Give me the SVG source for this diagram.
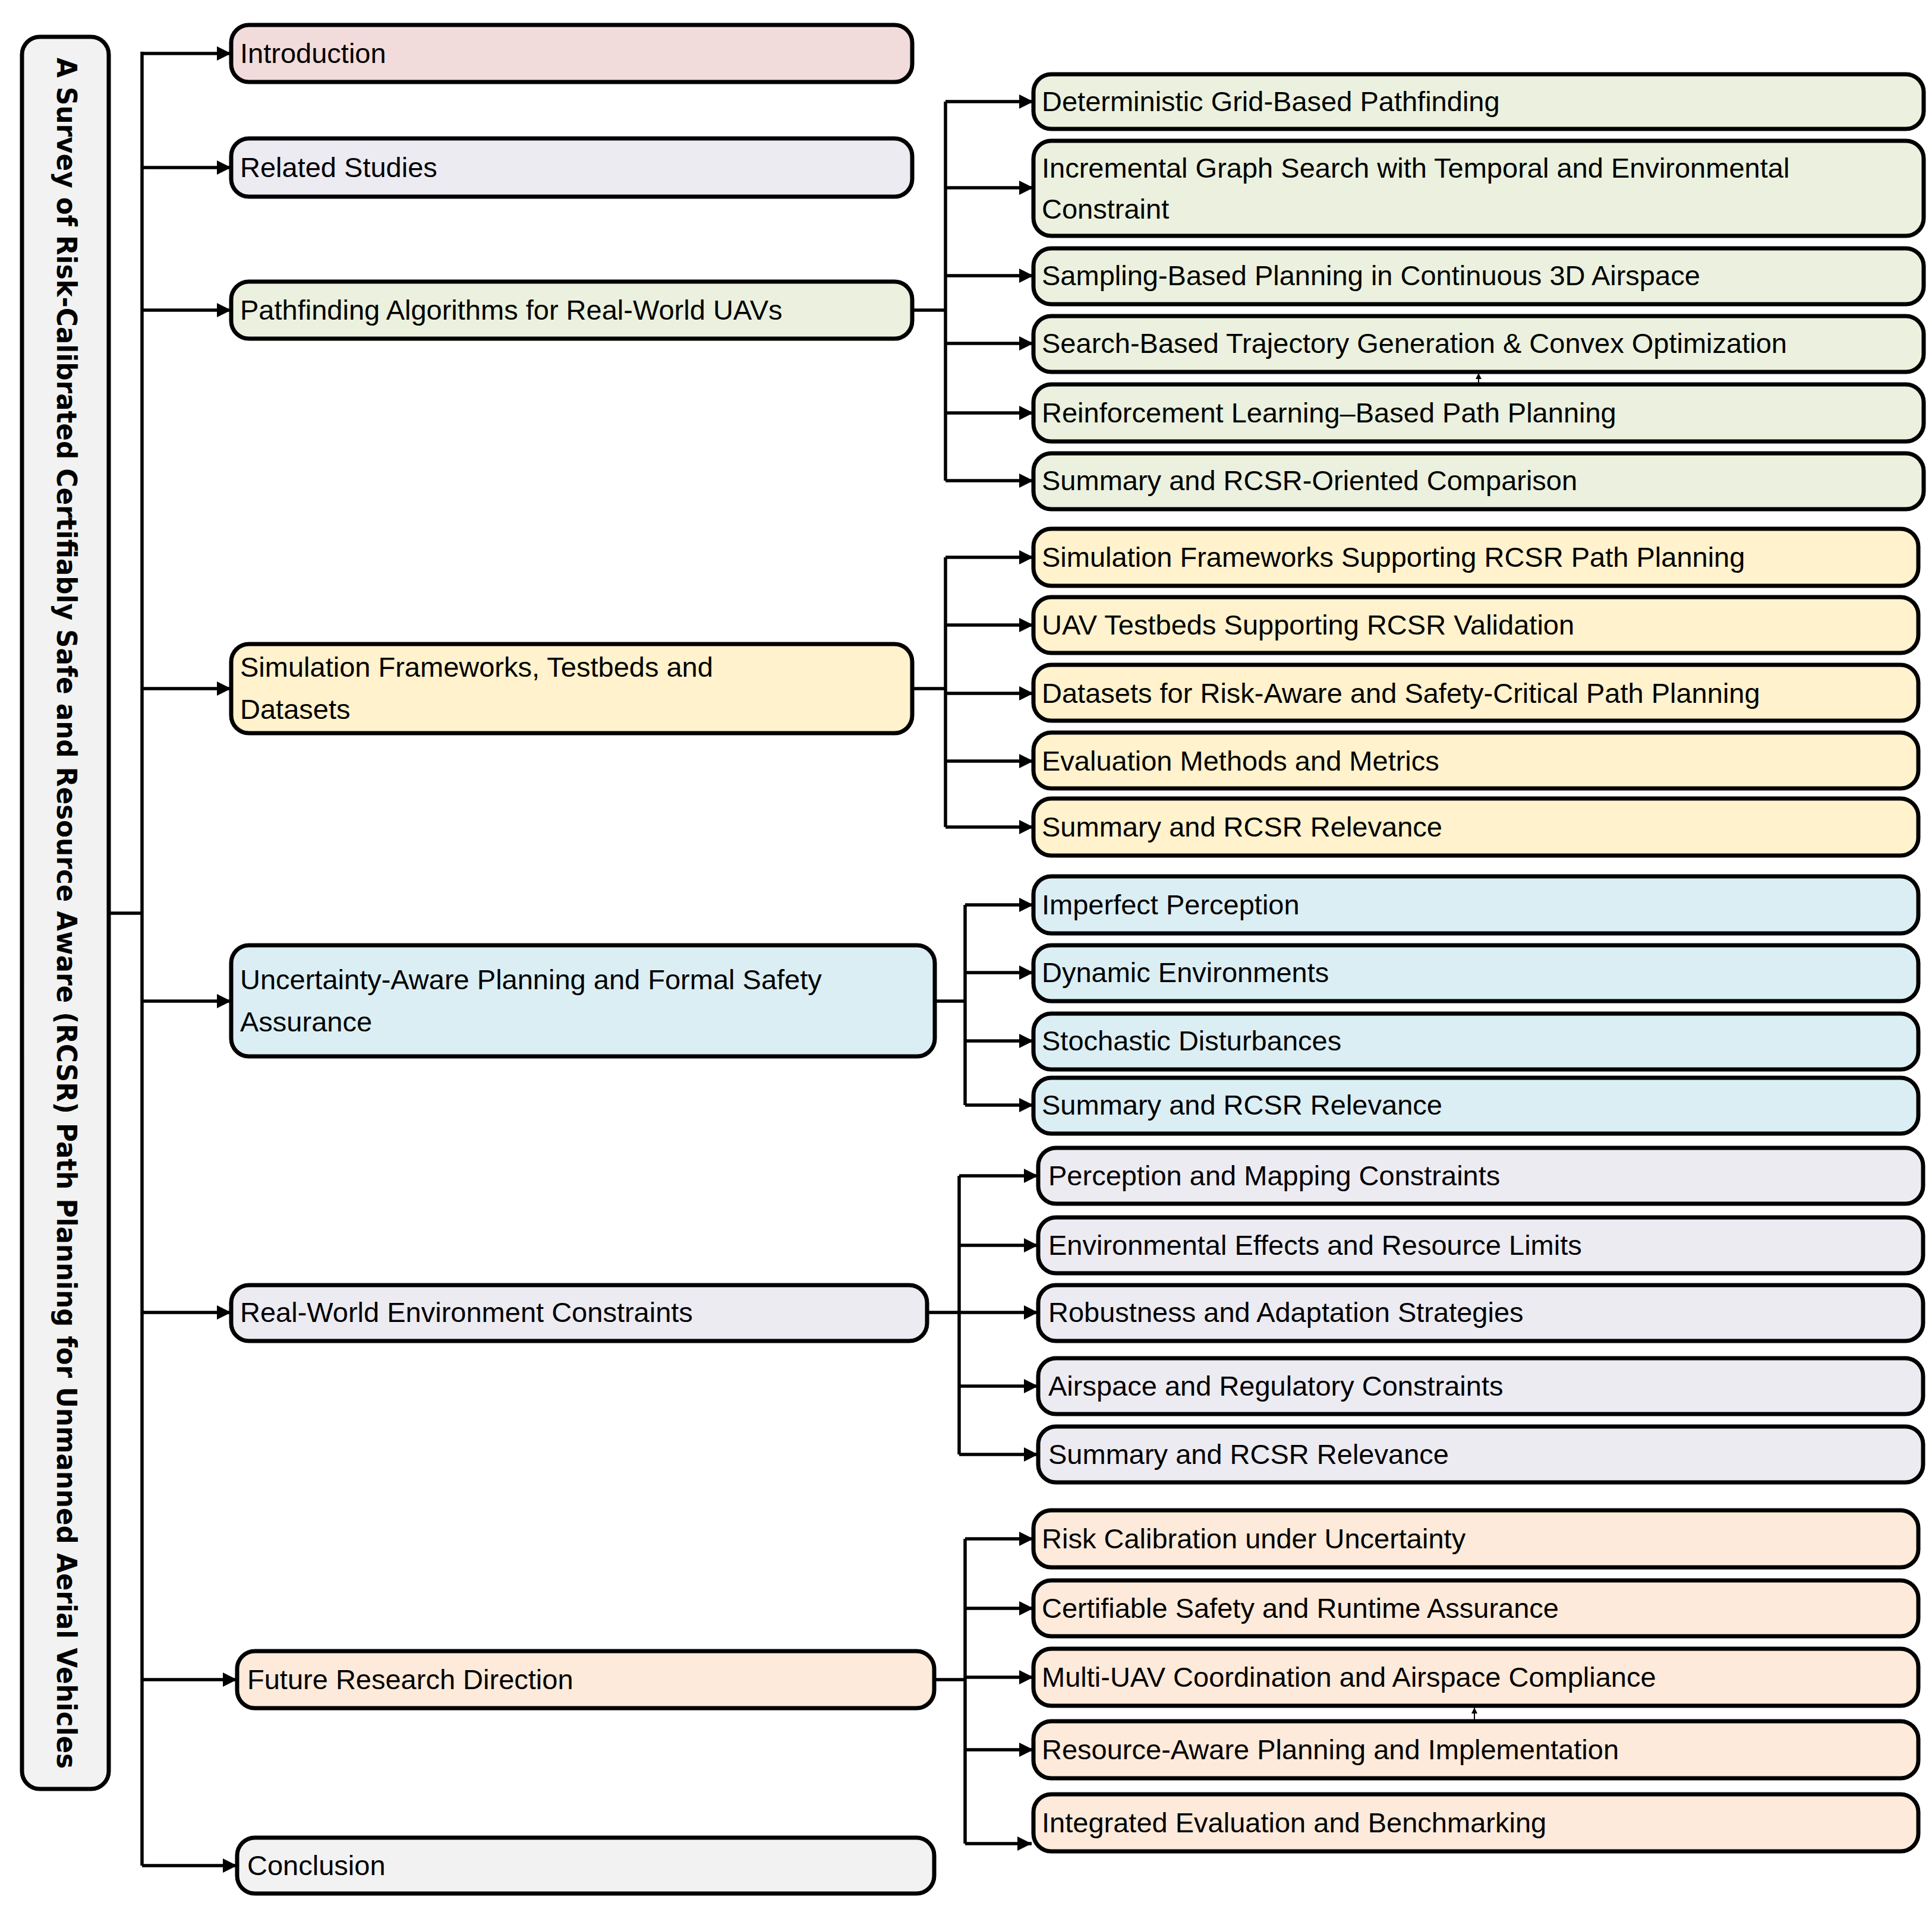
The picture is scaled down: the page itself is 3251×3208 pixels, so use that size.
<svg xmlns="http://www.w3.org/2000/svg" width="3251" height="3208" viewBox="0 0 3251 3208">
<defs>
<marker id="ah" markerUnits="userSpaceOnUse" markerWidth="26" markerHeight="26" refX="24" refY="12" orient="auto"><path d="M0,0 L24,12 L0,24 Z" fill="#000"/></marker>
<marker id="sm" markerUnits="userSpaceOnUse" markerWidth="12" markerHeight="12" refX="10" refY="5" orient="auto"><path d="M0,0 L10,5 L0,10 Z" fill="#000"/></marker>
<style>
.b{stroke:#000;stroke-width:7;rx:30}
.t{font-family:"Liberation Sans",Arial,sans-serif;font-size:47px;fill:#000}
.c path{fill:none;stroke:#000;stroke-width:5.5}
.c .a{marker-end:url(#ah)}
.red{fill:#f2dcdb}.lav{fill:#ecebf2}.grn{fill:#ebf1de}.yel{fill:#fff2cc}.blu{fill:#dbeef4}.pch{fill:#fdeada}.gry{fill:#f2f2f2}
</style>
</defs>
<rect width="3251" height="3208" fill="#fff"/>
<g class="c" id="connectors">
<path d="M183,1537 H239 M239,87 V3140"/>
<path class="a" d="M239,90 H389"/>
<path class="a" d="M239,282 H389"/>
<path class="a" d="M239,522 H389"/>
<path class="a" d="M239,1159 H389"/>
<path class="a" d="M239,1685 H389"/>
<path class="a" d="M239,2209 H389"/>
<path class="a" d="M239,2827 H399"/>
<path class="a" d="M239,3140 H399"/>
<path d="M1535,522 H1591 M1591,171 V809"/>
<path class="a" d="M1591,171 H1739"/><path class="a" d="M1591,316 H1739"/><path class="a" d="M1591,464 H1739"/><path class="a" d="M1591,578 H1739"/><path class="a" d="M1591,695 H1739"/><path class="a" d="M1591,809 H1739"/>
<path d="M1535,1159 H1591 M1591,938 V1392"/>
<path class="a" d="M1591,938 H1739"/><path class="a" d="M1591,1052 H1739"/><path class="a" d="M1591,1167 H1739"/><path class="a" d="M1591,1281 H1739"/><path class="a" d="M1591,1392 H1739"/>
<path d="M1573,1685 H1624 M1624,1523 V1860"/>
<path class="a" d="M1624,1523 H1739"/><path class="a" d="M1624,1637 H1739"/><path class="a" d="M1624,1752 H1739"/><path class="a" d="M1624,1860 H1739"/>
<path d="M1560,2209 H1614 M1614,1979 V2448"/>
<path class="a" d="M1614,1979 H1747"/><path class="a" d="M1614,2096 H1747"/><path class="a" d="M1614,2209 H1747"/><path class="a" d="M1614,2333 H1747"/><path class="a" d="M1614,2448 H1747"/>
<path d="M1572,2827 H1624 M1624,2590 V3103"/>
<path class="a" d="M1624,2590 H1739"/><path class="a" d="M1624,2707 H1739"/><path class="a" d="M1624,2823 H1739"/><path class="a" d="M1624,2945 H1739"/><path class="a" d="M1624,3103 H1736"/>
<path d="M2488,650 V628" style="stroke-width:2;marker-end:url(#sm)"/>
<path d="M2481,2897 V2874" style="stroke-width:2;marker-end:url(#sm)"/>
</g>
<g id="root"><rect class="b gry" x="37" y="62" width="146" height="2949" rx="40"/>
<text transform="translate(96,1537) rotate(90)" text-anchor="middle" font-family="'DejaVu Sans',Verdana,sans-serif" font-weight="bold" font-size="46" textLength="2880" lengthAdjust="spacingAndGlyphs">A Survey of Risk-Calibrated Certifiably Safe and Resource Aware (RCSR) Path Planning for Unmanned Aerial Vehicles</text></g>
<g id="n1"><rect class="b red" x="389" y="42" width="1146" height="96"/><text class="t" x="404" y="106">Introduction</text></g>
<g id="n2"><rect class="b lav" x="389" y="233" width="1146" height="98"/><text class="t" x="404" y="298">Related Studies</text></g>
<g id="n3"><rect class="b grn" x="389" y="474" width="1146" height="96"/><text class="t" x="404" y="538">Pathfinding Algorithms for Real-World UAVs</text></g>
<g id="n4"><rect class="b yel" x="389" y="1084" width="1146" height="150"/><text class="t" x="404" y="1139">Simulation Frameworks, Testbeds and</text><text class="t" x="404" y="1210">Datasets</text></g>
<g id="n5"><rect class="b blu" x="389" y="1591" width="1184" height="187"/><text class="t" x="404" y="1665">Uncertainty-Aware Planning and Formal Safety</text><text class="t" x="404" y="1736">Assurance</text></g>
<g id="n6"><rect class="b lav" x="389" y="2163" width="1171" height="94"/><text class="t" x="404" y="2225">Real-World Environment Constraints</text></g>
<g id="n7"><rect class="b pch" x="399" y="2779" width="1173" height="96"/><text class="t" x="416" y="2843">Future Research Direction</text></g>
<g id="n8"><rect class="b gry" x="399" y="3093" width="1173" height="94"/><text class="t" x="416" y="3156">Conclusion</text></g>
<g id="p1"><rect class="b grn" x="1739" y="125" width="1498" height="92"/><text class="t" x="1753" y="187">Deterministic Grid-Based Pathfinding</text></g>
<g id="p2"><rect class="b grn" x="1739" y="237" width="1498" height="160"/><text class="t" x="1753" y="299">Incremental Graph Search with Temporal and Environmental</text><text class="t" x="1753" y="368">Constraint</text></g>
<g id="p3"><rect class="b grn" x="1739" y="418" width="1498" height="94"/><text class="t" x="1753" y="480">Sampling-Based Planning in Continuous 3D Airspace</text></g>
<g id="p4"><rect class="b grn" x="1739" y="532" width="1498" height="94"/><text class="t" x="1753" y="594">Search-Based Trajectory Generation &amp; Convex Optimization</text></g>
<g id="p5"><rect class="b grn" x="1739" y="647" width="1498" height="96"/><text class="t" x="1753" y="711">Reinforcement Learning–Based Path Planning</text></g>
<g id="p6"><rect class="b grn" x="1739" y="763" width="1498" height="94"/><text class="t" x="1753" y="825">Summary and RCSR-Oriented Comparison</text></g>
<g id="s1"><rect class="b yel" x="1739" y="890" width="1489" height="96"/><text class="t" x="1753" y="954">Simulation Frameworks Supporting RCSR Path Planning</text></g>
<g id="s2"><rect class="b yel" x="1739" y="1005" width="1489" height="94"/><text class="t" x="1753" y="1068">UAV Testbeds Supporting RCSR Validation</text></g>
<g id="s3"><rect class="b yel" x="1739" y="1119" width="1489" height="94"/><text class="t" x="1753" y="1183">Datasets for Risk-Aware and Safety-Critical Path Planning</text></g>
<g id="s4"><rect class="b yel" x="1739" y="1233" width="1489" height="94"/><text class="t" x="1753" y="1297">Evaluation Methods and Metrics</text></g>
<g id="s5"><rect class="b yel" x="1739" y="1344" width="1489" height="96"/><text class="t" x="1753" y="1408">Summary and RCSR Relevance</text></g>
<g id="u1"><rect class="b blu" x="1739" y="1475" width="1489" height="96"/><text class="t" x="1753" y="1539">Imperfect Perception</text></g>
<g id="u2"><rect class="b blu" x="1739" y="1591" width="1489" height="94"/><text class="t" x="1753" y="1653">Dynamic Environments</text></g>
<g id="u3"><rect class="b blu" x="1739" y="1706" width="1489" height="94"/><text class="t" x="1753" y="1768">Stochastic Disturbances</text></g>
<g id="u4"><rect class="b blu" x="1739" y="1814" width="1489" height="94"/><text class="t" x="1753" y="1876">Summary and RCSR Relevance</text></g>
<g id="r1"><rect class="b lav" x="1747" y="1932" width="1489" height="94"/><text class="t" x="1764" y="1995">Perception and Mapping Constraints</text></g>
<g id="r2"><rect class="b lav" x="1747" y="2049" width="1489" height="94"/><text class="t" x="1764" y="2112">Environmental Effects and Resource Limits</text></g>
<g id="r3"><rect class="b lav" x="1747" y="2163" width="1489" height="94"/><text class="t" x="1764" y="2225">Robustness and Adaptation Strategies</text></g>
<g id="r4"><rect class="b lav" x="1747" y="2286" width="1489" height="94"/><text class="t" x="1764" y="2349">Airspace and Regulatory Constraints</text></g>
<g id="r5"><rect class="b lav" x="1747" y="2401" width="1489" height="94"/><text class="t" x="1764" y="2464">Summary and RCSR Relevance</text></g>
<g id="f1"><rect class="b pch" x="1739" y="2542" width="1489" height="96"/><text class="t" x="1753" y="2606">Risk Calibration under Uncertainty</text></g>
<g id="f2"><rect class="b pch" x="1739" y="2660" width="1489" height="94"/><text class="t" x="1753" y="2723">Certifiable Safety and Runtime Assurance</text></g>
<g id="f3"><rect class="b pch" x="1739" y="2775" width="1489" height="96"/><text class="t" x="1753" y="2839">Multi-UAV Coordination and Airspace Compliance</text></g>
<g id="f4"><rect class="b pch" x="1739" y="2897" width="1489" height="96"/><text class="t" x="1753" y="2961">Resource-Aware Planning and Implementation</text></g>
<g id="f5"><rect class="b pch" x="1739" y="3020" width="1489" height="96"/><text class="t" x="1753" y="3084">Integrated Evaluation and Benchmarking</text></g>
</svg>
